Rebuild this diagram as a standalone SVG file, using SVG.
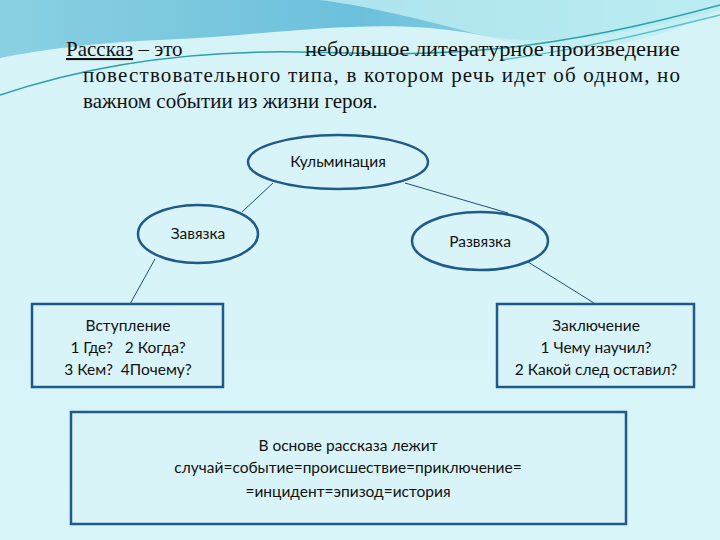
<svg xmlns="http://www.w3.org/2000/svg" width="720" height="540" viewBox="0 0 720 540">
<defs>
<linearGradient id="bg" x1="0" y1="0" x2="0" y2="1"><stop offset="0" stop-color="#d6f3f8"/><stop offset="1" stop-color="#d8f6fa"/></linearGradient>
<linearGradient id="wave" x1="0" y1="0" x2="1" y2="0"><stop offset="0" stop-color="#8ad0e2"/><stop offset="0.5" stop-color="#6cc0dc"/><stop offset="1" stop-color="#a8e4ee"/></linearGradient>
<style>
.n{fill:#d8f4f8;stroke:#1f5a8a;stroke-width:2.5}
.t{font-family:"Lato","Open Sans",sans-serif;font-size:15.5px;fill:#111;text-anchor:middle}
.c line{stroke:#1f4e70;stroke-width:1}
</style>
</defs>
<rect width="720" height="540" fill="url(#bg)"/>
<path d="M0 0H720V10C640 30 560 50 480 35C380 15 280 35 160 40C90 43 40 50 0 58Z" fill="url(#wave)"/>
<path d="M320 0H720V10C660 40 580 60 500 40C430 22 380 8 320 0Z" fill="#bfeef3" opacity="0.8"/>
<path d="M0 95C80 68 180 50 300 52C420 55 520 60 720 5" fill="none" stroke="#2aa0a8" stroke-width="1.5"/>
<path d="M500 60C580 50 660 30 720 15" fill="none" stroke="#5cc0c8" stroke-width="1.5"/>
<g font-family="Liberation Serif,serif" font-size="21" fill="#111">
<text x="66" y="56"><tspan text-decoration="underline">Рассказ</tspan> – это</text>
<text x="680" y="56" text-anchor="end" textLength="375" lengthAdjust="spacingAndGlyphs">небольшое литературное произведение</text>
<text x="83" y="82" textLength="597" lengthAdjust="spacing">повествовательного типа, в котором речь идет об одном, но</text>
<text x="83" y="108">важном событии из жизни героя.</text>
</g>
<g class="c">
<line x1="273" y1="183" x2="242" y2="212"/>
<line x1="405" y1="183" x2="508" y2="213"/>
<line x1="155" y1="259" x2="130" y2="304"/>
<line x1="528" y1="262" x2="594" y2="303"/>
</g>
<g id="kulm"><ellipse class="n" cx="338" cy="162" rx="90" ry="27"/><text class="t" x="338" y="167">Кульминация</text></g>
<g id="zav"><ellipse class="n" cx="198" cy="234" rx="60" ry="29"/><text class="t" x="198" y="239">Завязка</text></g>
<g id="razv"><ellipse class="n" cx="480" cy="241" rx="68" ry="29"/><text class="t" x="480" y="247">Развязка</text></g>
<g id="vst"><rect class="n" x="32" y="304" width="191" height="83"/><text class="t" x="128" y="331">Вступление</text><text class="t" x="128" y="353">1 Где?&#160;&#160; 2 Когда?</text><text class="t" x="128" y="375">3 Кем?&#160; 4Почему?</text></g>
<g id="zakl"><rect class="n" x="497" y="304" width="197" height="83"/><text class="t" x="596" y="331">Заключение</text><text class="t" x="596" y="353">1 Чему научил?</text><text class="t" x="596" y="375">2 Какой след оставил?</text></g>
<g id="osn"><rect class="n" x="71" y="412" width="555" height="112"/><text class="t" x="348" y="451">В основе рассказа лежит</text><text class="t" x="348" y="473">случай=событие=происшествие=приключение=</text><text class="t" x="348" y="497">=инцидент=эпизод=история</text></g>
</svg>
